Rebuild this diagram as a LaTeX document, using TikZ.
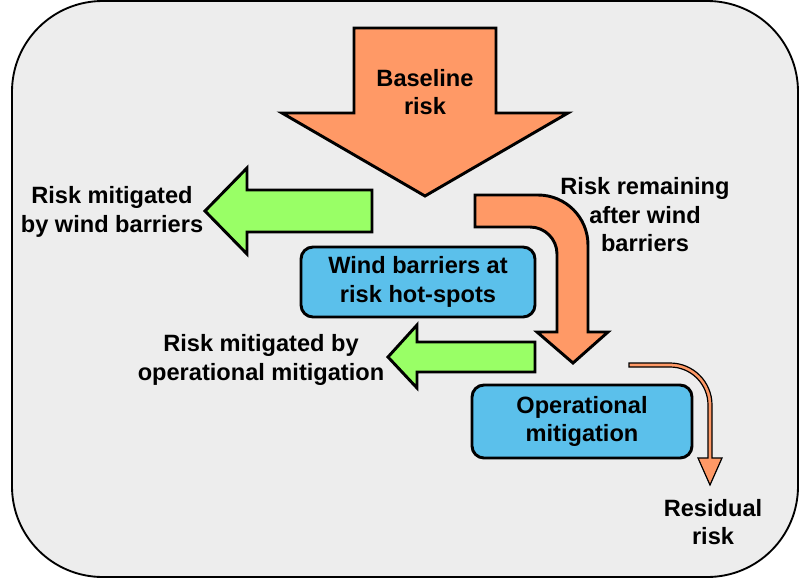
\documentclass[tikz,border=0pt]{standalone}
\usepackage{fontspec}
\setmainfont{Liberation Sans}
\usepackage{xcolor}

\definecolor{riskorange}{HTML}{FF9966}
\definecolor{mitgreen}{HTML}{99FF66}
\definecolor{boxblue}{HTML}{5BC0EB}
\definecolor{panelgray}{HTML}{EDEDED}

\begin{document}
\begin{tikzpicture}[x=0.75pt, y=-0.75pt, line join=miter,
    font=\fontsize{17.7}{21.4}\selectfont\bfseries,
    blockarrow/.style={draw=black, line width=2.2pt},
    riskbox/.style={draw=black, line width=2.2pt, fill=boxblue, rounded corners=9pt,
                    align=center, inner sep=0pt},
    lbl/.style={align=center, inner sep=0pt}]

    % Page frame in pixel units (y pointing down)
    \useasboundingbox (0,0) rectangle (800,579);
    \draw[fill=panelgray, line width=1.4pt, rounded corners=68pt] (12,1) rectangle (798,577);

    % Baseline risk (big arrow)
    \coordinate (baseTip) at (425,196);
    \draw[blockarrow, fill=riskorange] (354,28) -- (496,28) -- (496,113) -- (568,113)
        -- (baseTip) -- (282,113) -- (354,113) -- cycle;
    \node[lbl] (baseline) at (425,92) {Baseline\\risk};

    % Risk mitigated by wind barriers (green arrow)
    \coordinate (windTip) at (205,211);
    \draw[blockarrow, fill=mitgreen] (372,190) -- (372,232) -- (247,232) -- (247,254)
        -- (windTip) -- (247,168) -- (247,190) -- cycle;
    \node[lbl] (windMit) at (112,212) {Risk mitigated\\by wind barriers};

    % Wind barriers box
    \node[riskbox, minimum width=175.5pt, minimum height=52.5pt] (barriers) at (418,282)
        {Wind barriers at\\risk hot-spots};

    % Risk remaining after wind barriers (bent arrow)
    \coordinate (remainTip) at (573,363);
    \draw[blockarrow, fill=riskorange] (475,195) -- (538,195)
        .. controls (565.6,195) and (588,217.4) .. (588,245) -- (588,332) -- (608,332)
        -- (remainTip) -- (537,332) -- (557,332) -- (557,254)
        .. controls (557,239.1) and (544.9,227) .. (530,227) -- (475,227) -- cycle;
    \node[lbl] (remaining) at (645,215) {Risk remaining\\after wind\\barriers};

    % Risk mitigated by operational mitigation (green arrow)
    \coordinate (operTip) at (388,357);
    \draw[blockarrow, fill=mitgreen] (535,342) -- (535,372) -- (417,372) -- (417,388)
        -- (operTip) -- (417,325) -- (417,342) -- cycle;
    \node[lbl] (operMit) at (261,360) {Risk mitigated by\\operational mitigation};

    % Operational mitigation box
    \node[riskbox, minimum width=165pt, minimum height=54.75pt] (operational) at (582,421.5)
        {Operational\\mitigation};

    % Residual risk (thin bent arrow)
    \coordinate (residTip) at (710,485);
    \draw[draw=black, line width=0.9pt, fill=riskorange] (629,363) -- (670,363)
        .. controls (693.2,363) and (712,381.8) .. (712,405) -- (712,458) -- (722,458)
        -- (residTip) -- (698,458) -- (708,458) -- (708,405)
        .. controls (708,384) and (691,367) .. (670,367) -- (629,367) -- cycle;
    \node[lbl] (residual) at (713,522) {Residual\\risk};

\end{tikzpicture}
\end{document}
